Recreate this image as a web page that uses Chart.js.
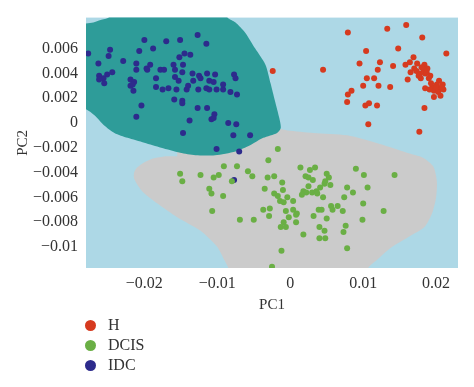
<!DOCTYPE html>
<html>
<head>
<meta charset="utf-8">
<script src="https://cdn.jsdelivr.net/npm/chart.js@4.4.1/dist/chart.umd.min.js"></script>
<style>
  body { margin: 0; background: #fff; }
  #wrap { position: relative; width: 474px; height: 387px; }
  .legend { position: absolute; left: 85px; top: 315px; font-family: 'Liberation Serif', 'Times New Roman', serif; font-size: 16px; color: #333; }
  .legend div { height: 20px; line-height: 20px; display: flex; align-items: center; }
  .legend span { display: inline-block; width: 11px; height: 11px; border-radius: 50%; margin-right: 12px; }
</style>
</head>
<body>
<div id="wrap">
  <canvas id="pca-chart"></canvas>
  <div class="legend">
    <div><span style="background:#d63a1f"></span>H</div>
    <div><span style="background:#6aaf45"></span>DCIS</div>
    <div><span style="background:#2d2b8c"></span>IDC</div>
  </div>
</div>
<script>
// PCA scatter - H / DCIS / IDC with classifier regions

const xTicks = [-0.02, -0.01, 0, 0.01, 0.02];
const yTicks = [-0.01, -0.008, -0.006, -0.004, -0.002, 0, 0.002, 0.004, 0.006];

// H samples (PC1, PC2)
const hPoints = [
    [0.0079, 0.0073], [0.0133, 0.0076], [0.0159, 0.0079], [0.0181, 0.0069], [0.0148, 0.0060],
    [0.0214, 0.0056], [0.0104, 0.0058], [0.0045, 0.0043], [-0.0024, 0.0042], [0.0095, 0.0048],
    [0.0123, 0.0049], [0.0120, 0.0043], [0.0141, 0.0046], [0.0105, 0.0036], [0.0115, 0.0036],
    [0.0100, 0.0030], [0.0121, 0.0030], [0.0137, 0.0029], [0.0084, 0.0026], [0.0079, 0.0023],
    [0.0078, 0.0017], [0.0103, 0.0014], [0.0108, 0.0016], [0.0119, 0.0014], [0.0107, -0.0001],
    [0.0161, 0.0035], [0.0184, 0.0012], [0.0177, -0.0007],
    [0.0169, 0.0053], [0.0164, 0.0049], [0.0158, 0.0047], [0.0174, 0.0048], [0.0184, 0.0047],
    [0.0188, 0.0044], [0.0165, 0.0041], [0.0173, 0.0042], [0.0178, 0.0040], [0.0185, 0.0040],
    [0.0192, 0.0038], [0.0179, 0.0036], [0.0176, 0.0038], [0.0183, 0.0043], [0.0190, 0.0036],
    [0.0180, 0.0045], [0.0170, 0.0044], [0.0187, 0.0041],
    [0.0204, 0.0034], [0.0201, 0.0031], [0.0209, 0.0031], [0.0195, 0.0029], [0.0205, 0.0028],
    [0.0210, 0.0027], [0.0197, 0.0026], [0.0203, 0.0025], [0.0185, 0.0028], [0.0191, 0.0027],
    [0.0206, 0.0022], [0.0197, 0.0021], [0.0200, 0.0029], [0.0193, 0.0032], [0.0208, 0.0029]
];

// DCIS samples
const dcisPoints = [
    [-0.0151, -0.0041], [-0.0148, -0.0047], [-0.0123, -0.0042], [-0.0105, -0.0044], [-0.0098, -0.0042],
    [-0.0091, -0.0035], [-0.0073, -0.0035], [-0.0058, -0.0039], [-0.0052, -0.0043], [-0.0030, -0.0030],
    [-0.0017, -0.0021], [-0.0080, -0.0047], [-0.0111, -0.0053], [-0.0108, -0.0057], [-0.0092, -0.0059],
    [-0.0107, -0.0071], [-0.0069, -0.0078], [-0.0050, -0.0078], [-0.0035, -0.0053], [-0.0031, -0.0044],
    [-0.0022, -0.0043], [-0.0011, -0.0048], [-0.0010, -0.0054], [-0.0022, -0.0057], [-0.0017, -0.0059],
    [-0.0014, -0.0063], [-0.0009, -0.0064], [-0.0004, -0.0060], [0.0004, -0.0063], [-0.0037, -0.0070],
    [-0.0028, -0.0069], [-0.0029, -0.0075], [-0.0006, -0.0071], [0.0004, -0.0070], [0.0009, -0.0073],
    [-0.0002, -0.0076], [-0.0009, -0.0080], [0.0008, -0.0080], [-0.0013, -0.0084], [-0.0006, -0.0084],
    [-0.0012, -0.0103], [-0.0025, -0.0116], [0.0014, -0.0036], [0.0027, -0.0038], [0.0034, -0.0036],
    [0.0090, -0.0037], [0.0101, -0.0042], [0.0143, -0.0042], [0.0021, -0.0043], [0.0025, -0.0044],
    [0.0031, -0.0046], [0.0050, -0.0041], [0.0053, -0.0044], [0.0048, -0.0047], [0.0047, -0.0049],
    [0.0055, -0.0050], [0.0025, -0.0051], [0.0018, -0.0055], [0.0022, -0.0056], [0.0016, -0.0058],
    [0.0030, -0.0056], [0.0036, -0.0055], [0.0041, -0.0052], [0.0037, -0.0057], [0.0045, -0.0060],
    [0.0078, -0.0052], [0.0086, -0.0056], [0.0106, -0.0052], [0.0074, -0.0060], [0.0100, -0.0065],
    [0.0128, -0.0071], [0.0056, -0.0067], [0.0058, -0.0070], [0.0065, -0.0067], [0.0072, -0.0071],
    [0.0039, -0.0070], [0.0043, -0.0070], [0.0032, -0.0075], [0.0050, -0.0077], [0.0099, -0.0078],
    [0.0076, -0.0083], [0.0073, -0.0088], [0.0040, -0.0084], [0.0047, -0.0087], [0.0018, -0.0090],
    [0.0040, -0.0093], [0.0048, -0.0093], [0.0078, -0.0101], [0.0008, -0.0074]
];

// IDC samples
const idcPoints = [
    [-0.0277, 0.0056], [-0.0200, 0.0067], [-0.0170, 0.0066], [-0.0151, 0.0067], [-0.0127, 0.0071],
    [-0.0115, 0.0064], [-0.0247, 0.0059], [-0.0188, 0.0060], [-0.0249, 0.0054], [-0.0207, 0.0058],
    [-0.0145, 0.0056], [-0.0137, 0.0055], [-0.0152, 0.0053], [-0.0263, 0.0048], [-0.0229, 0.0050],
    [-0.0211, 0.0048], [-0.0192, 0.0047], [-0.0160, 0.0047], [-0.0147, 0.0047], [-0.0211, 0.0043],
    [-0.0197, 0.0044], [-0.0196, 0.0043], [-0.0178, 0.0043], [-0.0173, 0.0043], [-0.0158, 0.0043],
    [-0.0148, 0.0041], [-0.0244, 0.0041], [-0.0251, 0.0039], [-0.0262, 0.0038], [-0.0256, 0.0036],
    [-0.0262, 0.0035], [-0.0255, 0.0032], [-0.0184, 0.0036], [-0.0158, 0.0037], [-0.0134, 0.0040],
    [-0.0125, 0.0038], [-0.0114, 0.0040], [-0.0103, 0.0039], [-0.0077, 0.0039], [-0.0075, 0.0036],
    [-0.0133, 0.0034], [-0.0111, 0.0034], [-0.0123, 0.0036], [-0.0153, 0.0034], [-0.0219, 0.0035],
    [-0.0214, 0.0033], [-0.0219, 0.0030], [-0.0216, 0.0031], [-0.0215, 0.0026], [-0.0184, 0.0029],
    [-0.0175, 0.0027], [-0.0167, 0.0028], [-0.0156, 0.0027], [-0.0142, 0.0027], [-0.0126, 0.0027],
    [-0.0115, 0.0028], [-0.0111, 0.0027], [-0.0101, 0.0027], [-0.0092, 0.0027], [-0.0082, 0.0025],
    [-0.0073, 0.0023], [-0.0092, 0.0031], [-0.0159, 0.0019], [-0.0148, 0.0018], [-0.0148, 0.0016],
    [-0.0127, 0.0012], [-0.0114, 0.0012], [-0.0104, 0.0007], [-0.0108, 0.0003], [-0.0138, 0.0002],
    [-0.0204, 0.0014], [-0.0211, 0.0005], [-0.0085, 0.0000], [-0.0074, -0.0001], [-0.0147, -0.0008],
    [-0.0078, -0.0010], [-0.0055, -0.0010], [-0.0101, -0.0021], [-0.0070, -0.0023], [-0.0077, -0.0046],
    [-0.0105, 0.0033], [-0.0140, 0.0030], [-0.0105, 0.0004]
];

// IDC decision region outline
const idcRegion = [
    [-0.0285, 0.0080], [-0.0270, 0.0081], [-0.0260, 0.0083], [-0.0249, 0.0085], [-0.0247, 0.0090],
    [-0.0086, 0.0090], [-0.0086, 0.0085], [-0.0075, 0.0081], [-0.0062, 0.0073], [-0.0048, 0.0060],
    [-0.0034, 0.0047], [-0.0027, 0.0032], [-0.0021, 0.0018], [-0.0015, 0.0004], [-0.0013, -0.0004],
    [-0.0018, -0.0008], [-0.0037, -0.0012], [-0.0055, -0.0018], [-0.0075, -0.0023], [-0.0103, -0.0026],
    [-0.0130, -0.0026], [-0.0151, -0.0024], [-0.0177, -0.0020], [-0.0200, -0.0016], [-0.0223, -0.0012],
    [-0.0241, -0.0008], [-0.0255, -0.0002], [-0.0268, 0.0006], [-0.0280, 0.0011], [-0.0285, 0.0011]
];

// DCIS decision region outline
const dcisRegion = [
    [-0.0155, -0.0022], [-0.0055, -0.0014], [-0.0018, -0.0005], [-0.0004, -0.0006], [0.0032, -0.0008],
    [0.0078, -0.0010], [0.0123, -0.0017], [0.0160, -0.0024], [0.0182, -0.0028], [0.0196, -0.0035],
    [0.0201, -0.0047], [0.0200, -0.0060], [0.0195, -0.0072], [0.0184, -0.0084], [0.0162, -0.0092],
    [0.0137, -0.0101], [0.0118, -0.0111], [0.0107, -0.0117], [0.0107, -0.0125], [-0.0085, -0.0125],
    [-0.0085, -0.0117], [-0.0090, -0.0111], [-0.0100, -0.0100], [-0.0123, -0.0087], [-0.0155, -0.0076],
    [-0.0182, -0.0065], [-0.0203, -0.0055], [-0.0214, -0.0045], [-0.0214, -0.0040], [-0.0210, -0.0036],
    [-0.0201, -0.0032], [-0.0190, -0.0029], [-0.0173, -0.0027], [-0.0155, -0.0027]
];

const toXY = arr => arr.map(p => ({ x: p[0], y: p[1] }));

const serif = "'Liberation Serif', 'Times New Roman', serif";

// paint the light blue (H) region behind everything
const plotBackground = {
    id: 'plotBackground',
    beforeDraw(chart) {
        const { ctx, chartArea } = chart;
        ctx.save();
        ctx.fillStyle = '#add8e6';
        ctx.fillRect(chartArea.left, chartArea.top, chartArea.width, chartArea.height);
        ctx.restore();
    }
};

function regionDataset(points, color, order) {
    return {
        type: 'line',
        data: toXY(points),
        showLine: true,
        fill: 'shape',
        backgroundColor: color,
        borderWidth: 0,
        pointRadius: 0,
        tension: 0.25,
        order: order
    };
}

function pointDataset(label, points, color) {
    return {
        type: 'scatter',
        label: label,
        data: toXY(points),
        backgroundColor: color,
        borderWidth: 0,
        pointRadius: 3,
        order: 0
    };
}

document.addEventListener('DOMContentLoaded', function () {
    const ctx = document.getElementById('pca-chart');
    new Chart(ctx, {
        type: 'scatter',
        data: {
            datasets: [
                pointDataset('H', hPoints, '#d63a1f'),
                pointDataset('DCIS', dcisPoints, '#6aaf45'),
                pointDataset('IDC', idcPoints, '#2d2b8c'),
                regionDataset(idcRegion, '#2e9c99', 5),
                regionDataset(dcisRegion, '#cbcbcb', 6)
            ]
        },
        options: {
            responsive: true,
            maintainAspectRatio: false,
            animation: false,
            layout: { padding: { left: 0, top: 16, right: 16, bottom: 69 } },
            plugins: {
                legend: { display: false },
                tooltip: { enabled: false }
            },
            scales: {
                x: {
                    type: 'linear',
                    min: -0.028,
                    max: 0.023,
                    afterBuildTicks: s => { s.ticks = xTicks.map(v => ({ value: v })); },
                    afterFit: s => { s.height = 50; },
                    grid: { display: false, drawTicks: false },
                    border: { display: false },
                    ticks: {
                        color: '#333',
                        padding: 6,
                        maxRotation: 0,
                        font: { family: serif, size: 16 },
                        callback: v => String(v).replace('-', '\u2212')
                    },
                    title: {
                        display: true,
                        text: 'PC1',
                        color: '#333',
                        font: { family: serif, size: 15 },
                        padding: { top: 0, bottom: 4 }
                    }
                },
                y: {
                    type: 'linear',
                    min: -0.0117,
                    max: 0.0085,
                    afterBuildTicks: s => { s.ticks = yTicks.map(v => ({ value: v })); },
                    afterFit: s => { s.width = 86; },
                    grid: { display: false, drawTicks: false },
                    border: { display: false },
                    ticks: {
                        color: '#333',
                        padding: 8,
                        font: { family: serif, size: 16 },
                        callback: v => String(v).replace('-', '\u2212')
                    },
                    title: {
                        display: true,
                        text: 'PC2',
                        color: '#333',
                        font: { family: serif, size: 15 },
                        padding: { top: 14, bottom: 0 }
                    }
                }
            }
        },
        plugins: [plotBackground]
    });
});
</script>
</body>
</html>
